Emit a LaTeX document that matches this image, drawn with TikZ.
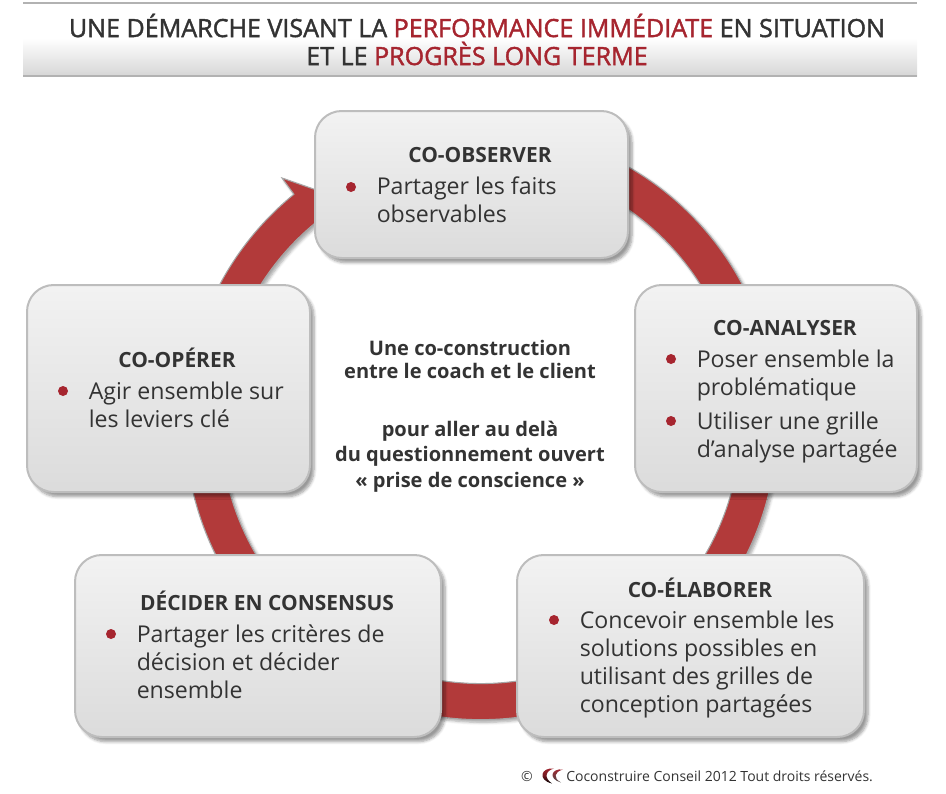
\documentclass[tikz,border=0pt]{standalone}
\usepackage{fontspec}
\setmainfont{Open Sans}
\newcommand{\epais}[1]{\special{pdf:code 2 Tr 0.3 w}#1\special{pdf:code 0 Tr}}
\usetikzlibrary{shadows,shadows.blur}
\definecolor{rouge}{HTML}{A6252F}
\definecolor{anneau}{HTML}{B23A3A}
\definecolor{encre}{HTML}{333333}
\definecolor{bord}{HTML}{BDBDBD}
\tikzset{
  boite/.style={draw=bord,line width=1.5pt,rounded corners=20pt,top color=black!5,bottom color=black!14,
    blur shadow={shadow xshift=3pt,shadow yshift=-3.5pt,shadow blur steps=6,shadow opacity=40}},
  titre/.style={font=\bfseries\fontsize{15.7}{18}\selectfont,text=encre,inner sep=0pt},
  item/.style={font=\fontsize{17.35}{21}\selectfont,text=encre,inner sep=0pt,anchor=north west,align=left,execute at begin node=\strut},
  puce/.style={circle,fill=rouge,inner sep=0pt,minimum size=7.5pt},
  centre/.style={font=\bfseries\fontsize{15.05}{#1}\selectfont,text=encre,inner sep=0pt,align=center}
}
\begin{document}
\begin{tikzpicture}[x=.75pt,y=-.75pt]
\useasboundingbox (0,0) rectangle (946,793);
% bandeau
\shade[top color=white,bottom color=black!16] (23,38) rectangle (917,76);
\draw[black!30,line width=2.2pt] (23,3)--(917,3);
\draw[black!30,line width=2.2pt] (23,76)--(917,76);
\node[inner sep=0pt,align=center,text=encre,font=\fontsize{18.8}{21}\selectfont] (entete) at (477,39.5)
  {\epais{UNE DÉMARCHE VISANT LA \textcolor{rouge}{PERFORMANCE IMMÉDIATE} EN SITUATION}\\
   \epais{ET LE \textcolor{rouge}{PROGRÈS LONG TERME}}};
% anneau
\fill[anneau,draw=black!35,line width=.8pt,blur shadow={shadow xshift=2pt,shadow yshift=-2pt,shadow blur steps=5,shadow opacity=35}]
  (481,423.6) ++(-60:296) arc (-60:230.8:296)
  -- (282,178) -- (345,200) -- (317,221.5)
  arc (231:-60:260) -- cycle;
% boites
\draw[boite] (315,111) rectangle (628,258);
\draw[boite] (635,285) rectangle (917,492);
\draw[boite] (517,555) rectangle (864,737);
\draw[boite] (75,555) rectangle (441,737);
\draw[boite] (27,285) rectangle (310,492);
% textes
\node[titre] (obs) at (480,155) {CO-OBSERVER};
\node[titre] (ana) at (785,328) {CO-ANALYSER};
\node[titre] (ela) at (700,588) {CO-ÉLABORER};
\node[titre] (dec) at (267,601) {DÉCIDER EN CONSENSUS};
\node[titre] (ope) at (177,358) {CO-OPÉRER};
\foreach \n/\x/\y in {pobs/351/187,pana/671/359,panb/671/421,pela/554/620,pdec/111/634,pope/63/391}
  \node[puce] (\n) at (\x,\y) {};
\node[item] (tobs) at (376.5,176.5) {Partager les faits\\observables};
\node[item] (tana) at (696.5,349.5) {Poser ensemble la\\problématique};
\node[item] (tanb) at (696.5,411.5) {Utiliser une grille\\d’analyse partagée};
\node[item] (tela) at (579.5,610.5) {Concevoir ensemble les\\solutions possibles en\\utilisant des grilles de\\conception partagées};
\node[item] (tdec) at (136.5,624.5) {Partager les critères de\\décision et décider\\ensemble};
\node[item] (tope) at (88.5,381.5) {Agir ensemble sur\\les leviers clé};
\node[centre=17.2] (cona) at (470,359.5) {Une co-construction\\entre le coach et le client};
\node[centre=19.1] (conb) at (470,456.5) {pour aller au delà\\du questionnement ouvert\\« prise de conscience »};
% pied
\node[inner sep=0pt,text=encre,font=\fontsize{10.5}{12}\selectfont] (copy) at (527,776) {©};
\shade[top color=rouge,bottom color=black,middle color=rouge!70!black] (554,768.5) .. controls (541,767) and (537,780) .. (552,783.5) .. controls (544,778) and (545,771) .. (554,768.5) -- cycle;
\shade[top color=rouge,bottom color=black!70] (563,769.5) .. controls (551,768) and (548,779) .. (561,782.5) .. controls (553,778) and (554,772) .. (563,769.5) -- cycle;
\node[inner sep=0pt,anchor=west,text=encre,font=\fontsize{10.5}{12}\selectfont] (droits) at (566,776) {Coconstruire Conseil 2012 Tout droits réservés.};
\end{tikzpicture}
\end{document}
